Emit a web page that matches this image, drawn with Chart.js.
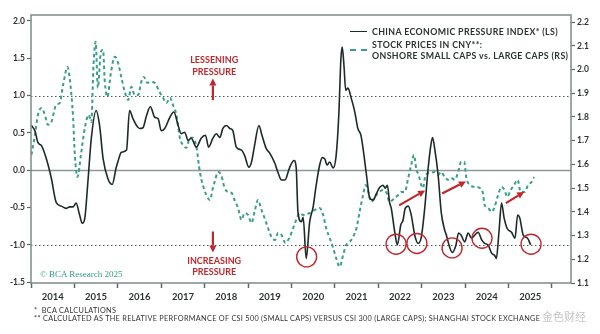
<!DOCTYPE html>
<html><head><meta charset="utf-8">
<script src="https://cdn.jsdelivr.net/npm/chart.js@4.4.1/dist/chart.umd.min.js"></script>
<style>
html,body{margin:0;padding:0;background:#fff;}
#wrap{position:relative;width:600px;height:334px;overflow:hidden;font-family:Lato,'DejaVu Sans',sans-serif;}
#c{position:absolute;left:0;top:0;}
.t{position:absolute;white-space:nowrap;color:#2b3331;font-weight:700;line-height:1;}
.lg{font-size:8.8px;letter-spacing:0.38px;}
.fn{font-size:7.3px;letter-spacing:0.3px;font-weight:400;color:#333;}
.sym{position:absolute;width:17px;height:0;}
</style></head><body>
<div id="wrap">
<canvas id="c" width="600" height="334"></canvas>
<div class="sym" style="left:350px;top:31px;border-top:1.6px solid #1d2b28"></div>
<div class="t lg" style="left:372px;top:28px;">CHINA ECONOMIC PRESSURE INDEX* (LS)</div>
<div class="sym" style="left:350px;top:49px;border-top:2px dashed #3a9f88"></div>
<div class="t lg" style="left:372px;top:41px;">STOCK PRICES IN CNY**:</div>
<div class="t lg" style="left:372px;top:52px;">ONSHORE SMALL CAPS vs. LARGE CAPS (RS)</div>
<div class="t" style="left:40px;top:270px;font-size:9px;color:#2f9e86;font-weight:400;font-family:'Liberation Serif','DejaVu Serif',serif">© BCA Research 2025</div>
<div class="t fn" style="left:34px;top:307px;">*&nbsp; BCA CALCULATIONS</div>
<div class="t fn" style="left:34px;top:315px;">** CALCULATED AS THE RELATIVE PERFORMANCE OF CSI 500 (SMALL CAPS) VERSUS CSI 300 (LARGE CAPS); SHANGHAI STOCK EXCHANGE</div>
<div class="t" style="left:542px;top:311px;font-size:11px;font-weight:400;color:#c4c4c4;font-family:'Noto Sans CJK SC',sans-serif">金色财经</div>
</div>
<script>
// ---- data ----
const econDates = [2014.01,2014.09,2014.16,2014.24,2014.35,2014.47,2014.58,2014.70,2014.81,2014.89,2014.97,2015.04,2015.12,2015.18,2015.24,2015.31,2015.39,2015.50,2015.58,2015.66,2015.77,2015.87,2015.96,2016.00,2016.08,2016.20,2016.27,2016.35,2016.43,2016.50,2016.58,2016.66,2016.75,2016.85,2016.93,2017.00,2017.08,2017.20,2017.29,2017.39,2017.46,2017.54,2017.62,2017.69,2017.81,2017.92,2018.02,2018.09,2018.19,2018.27,2018.35,2018.42,2018.50,2018.58,2018.65,2018.73,2018.85,2018.92,2019.02,2019.08,2019.15,2019.25,2019.32,2019.42,2019.50,2019.62,2019.69,2019.77,2019.85,2019.96,2020.06,2020.11,2020.15,2020.23,2020.27,2020.34,2020.42,2020.50,2020.57,2020.65,2020.71,2020.77,2020.82,2020.88,2020.96,2021.03,2021.09,2021.14,2021.17,2021.21,2021.25,2021.30,2021.38,2021.46,2021.53,2021.60,2021.65,2021.73,2021.80,2021.88,2021.96,2022.03,2022.11,2022.16,2022.21,2022.26,2022.30,2022.38,2022.44,2022.52,2022.57,2022.62,2022.69,2022.76,2022.84,2022.92,2022.99,2023.07,2023.15,2023.21,2023.25,2023.30,2023.38,2023.45,2023.52,2023.57,2023.65,2023.71,2023.79,2023.85,2023.91,2023.99,2024.07,2024.15,2024.22,2024.30,2024.38,2024.45,2024.53,2024.61,2024.68,2024.72,2024.78,2024.84,2024.90,2024.97,2025.07,2025.15,2025.21,2025.26,2025.34,2025.44,2025.51];
const econValues = [0.60,0.53,0.37,0.33,0.16,-0.11,-0.43,-0.48,-0.51,-0.49,-0.49,-0.44,-0.60,-0.71,-0.64,-0.16,0.43,0.80,0.60,0.16,-0.11,-0.19,0.03,0.11,0.24,0.27,0.80,0.69,0.60,0.56,0.57,0.73,0.85,0.71,0.69,0.53,0.56,0.71,0.78,0.60,0.49,0.51,0.40,0.43,0.31,0.43,0.47,0.31,0.43,0.49,0.44,0.56,0.60,0.56,0.53,0.31,0.27,0.20,0.04,0.11,0.33,0.60,0.47,0.29,0.23,0.09,-0.03,-0.13,-0.13,0.04,0.13,0.03,-0.56,-0.69,-0.63,-1.18,-0.69,-0.49,-0.20,0.07,0.17,0.15,0.07,0.11,0.03,0.20,0.73,1.50,1.65,1.40,1.07,1.10,0.96,0.78,0.56,0.47,0.29,-0.07,-0.37,-0.40,-0.31,-0.23,-0.20,-0.24,-0.20,-0.43,-0.51,-0.83,-1.00,-0.73,-0.67,-0.51,-0.48,-0.60,-0.87,-0.98,-0.90,-0.51,0.03,0.33,0.44,0.29,-0.07,-0.56,-0.78,-0.87,-1.04,-1.10,-1.00,-0.84,-0.87,-0.96,-0.84,-0.91,-0.87,-0.83,-0.93,-0.98,-1.00,-1.11,-1.14,-1.18,-0.83,-0.44,-0.64,-0.78,-0.83,-0.91,-0.60,-0.64,-0.87,-0.91,-1.00];

const stockDates = [2014.01,2014.09,2014.16,2014.24,2014.32,2014.39,2014.47,2014.58,2014.66,2014.74,2014.84,2014.89,2014.97,2015.01,2015.07,2015.15,2015.24,2015.33,2015.39,2015.44,2015.49,2015.54,2015.61,2015.66,2015.70,2015.76,2015.84,2015.93,2016.00,2016.08,2016.16,2016.24,2016.31,2016.39,2016.47,2016.54,2016.60,2016.68,2016.76,2016.85,2016.97,2017.04,2017.12,2017.20,2017.27,2017.35,2017.43,2017.50,2017.58,2017.66,2017.73,2017.81,2017.89,2017.96,2018.04,2018.12,2018.19,2018.23,2018.31,2018.38,2018.46,2018.54,2018.62,2018.69,2018.77,2018.85,2018.92,2019.00,2019.08,2019.15,2019.23,2019.31,2019.38,2019.46,2019.54,2019.62,2019.69,2019.77,2019.86,2019.96,2020.04,2020.11,2020.19,2020.27,2020.42,2020.54,2020.65,2020.73,2020.80,2020.88,2020.96,2021.03,2021.11,2021.19,2021.26,2021.34,2021.42,2021.50,2021.57,2021.65,2021.71,2021.76,2021.84,2021.92,2022.00,2022.11,2022.19,2022.26,2022.33,2022.38,2022.46,2022.53,2022.61,2022.69,2022.76,2022.82,2022.88,2022.93,2022.99,2023.03,2023.09,2023.19,2023.30,2023.38,2023.45,2023.53,2023.61,2023.68,2023.76,2023.84,2023.91,2023.98,2024.03,2024.11,2024.22,2024.34,2024.41,2024.45,2024.53,2024.61,2024.68,2024.76,2024.84,2024.91,2024.97,2025.05,2025.13,2025.21,2025.28,2025.38,2025.45,2025.53,2025.59];
const stockValues = [1.640,1.724,1.809,1.838,1.809,1.767,1.779,1.851,1.859,1.935,2.011,1.965,1.796,1.640,1.547,1.640,1.754,1.809,1.779,2.020,2.117,1.923,2.075,2.083,1.948,1.885,1.986,2.054,2.032,1.969,1.906,1.872,1.927,1.893,1.893,1.948,1.969,1.944,1.948,1.944,1.902,1.881,1.859,1.881,1.851,1.809,1.712,1.682,1.670,1.712,1.712,1.674,1.568,1.513,1.471,1.450,1.500,1.526,1.568,1.556,1.501,1.484,1.480,1.450,1.416,1.366,1.395,1.387,1.353,1.400,1.450,1.408,1.374,1.332,1.294,1.281,1.311,1.303,1.269,1.294,1.332,1.366,1.395,1.387,1.395,1.408,1.416,1.387,1.332,1.290,1.248,1.205,1.168,1.218,1.260,1.273,1.294,1.332,1.400,1.471,1.513,1.492,1.442,1.463,1.480,1.492,1.480,1.442,1.450,1.459,1.471,1.484,1.484,1.543,1.598,1.640,1.577,1.556,1.513,1.501,1.556,1.564,1.568,1.556,1.568,1.547,1.535,1.543,1.535,1.568,1.611,1.611,1.543,1.513,1.505,1.501,1.480,1.429,1.416,1.400,1.421,1.471,1.505,1.492,1.463,1.492,1.513,1.535,1.484,1.484,1.513,1.526,1.547];

const yearLabels = ['2014','2015','2016','2017','2018','2019','2020','2021','2022','2023','2024','2025'];
const leftTicks = [-1.5,-1.0,-0.5,0.0,0.5,1.0,1.5,2.0];
const rightTicks = [1.1,1.2,1.3,1.4,1.5,1.6,1.7,1.8,1.9,2.0,2.1,2.2];

// annotation layout (in data units: year, left-axis value)
const refLines = [{v:1.0,dash:[1.5,2.5],color:'#555d5b',w:1.2},{v:0,dash:[],color:'#8d9997',w:1.4},{v:-1.0,dash:[1.5,2.5],color:'#555d5b',w:1.2}];
const circleMarks = [[2020.35,-1.16],[2022.41,-0.99],[2022.89,-0.98],[2023.70,-1.04],[2024.39,-0.91],[2025.52,-0.99]];
const redArrows = [[2022.48,-0.47,2023.08,-0.27],[2023.47,-0.31,2024.02,-0.15],[2024.94,-0.44,2025.36,-0.29],[2018.19,0.94,2018.19,1.23],[2018.19,-0.82,2018.19,-1.10]];
const redTexts = [['LESSENING',2018.22,1.47],['PRESSURE',2018.22,1.32],['INCREASING',2018.22,-1.22],['PRESSURE',2018.22,-1.36]];

const RED = '#c0272d';
const overlay = {
  id:'overlay',
  beforeDatasetsDraw(chart){
    const {ctx, chartArea:a, scales} = chart;
    ctx.save();
    refLines.forEach(r=>{
      const y = Math.round(scales.yL.getPixelForValue(r.v))+0.5;
      ctx.beginPath(); ctx.setLineDash(r.dash); ctx.strokeStyle=r.color; ctx.lineWidth=r.w;
      ctx.moveTo(a.left,y); ctx.lineTo(a.right,y); ctx.stroke();
    });
    ctx.restore();
  },
  afterDatasetsDraw(chart){
    const {ctx, chartArea:a, scales} = chart;
    const X = v=>scales.x.getPixelForValue(v), Y = v=>scales.yL.getPixelForValue(v);
    ctx.save();
    ctx.strokeStyle=RED; ctx.fillStyle=RED; ctx.setLineDash([]);
    ctx.lineWidth=1.4;
    circleMarks.forEach(([cx,cy])=>{ctx.beginPath();ctx.arc(X(cx),Y(cy),10,0,Math.PI*2);ctx.stroke();});
    redArrows.forEach(([x0,y0,x1,y1])=>{
      const px0=X(x0),py0=Y(y0),px1=X(x1),py1=Y(y1);
      const ang=Math.atan2(py1-py0,px1-px0), hl=7, hw=3.5;
      const bx=px1-hl*Math.cos(ang), by=py1-hl*Math.sin(ang);
      ctx.lineWidth=2.2; ctx.beginPath(); ctx.moveTo(px0,py0); ctx.lineTo(bx,by); ctx.stroke();
      ctx.beginPath(); ctx.moveTo(px1,py1);
      ctx.lineTo(bx+hw*Math.sin(ang),by-hw*Math.cos(ang));
      ctx.lineTo(bx-hw*Math.sin(ang),by+hw*Math.cos(ang));
      ctx.closePath(); ctx.fill();
    });
    ctx.font='bold 9px Lato, "DejaVu Sans", sans-serif'; ctx.textAlign='center'; ctx.textBaseline='middle';
    redTexts.forEach(([s,x,y])=>ctx.fillText(s,X(x),Y(y)));
    ctx.strokeStyle='#7e8b89'; ctx.lineWidth=1.5;
    ctx.strokeRect(a.left,a.top,a.right-a.left,a.bottom-a.top);
    ctx.restore();
  }
};

const tickFont = {family:'Lato, "DejaVu Sans", sans-serif', size:8.5, weight:'bold'};
const yearFont = {family:'Lato, "DejaVu Sans", sans-serif', size:9.5, weight:'bold'};
const pts = (xs,ys)=>xs.map((x,i)=>({x, y:ys[i]}));

new Chart(document.getElementById('c'), {
  type:'line',
  data:{datasets:[
    {label:'CHINA ECONOMIC PRESSURE INDEX* (LS)', data:pts(econDates,econValues), yAxisID:'yL', borderColor:'#1d2b28', borderWidth:1.6, pointRadius:0, cubicInterpolationMode:'monotone', order:0},
    {label:'STOCK PRICES IN CNY', data:pts(stockDates,stockValues), yAxisID:'yR', borderColor:'#3a9f88', borderWidth:2, borderDash:[3.5,3], pointRadius:0, cubicInterpolationMode:'monotone', order:1}
  ]},
  options:{
    responsive:false, animation:false, events:[],
    layout:{padding:{top:15,left:0,right:0,bottom:0}},
    plugins:{legend:{display:false}, tooltip:{enabled:false}},
    scales:{
      x:{type:'linear', min:2014, max:2026.44,
        afterBuildTicks:s=>{const t=[];for(let i=0;i<=yearLabels.length;i++){t.push({value:2014+i});if(i<yearLabels.length)t.push({value:2014.5+i});}s.ticks=t;},
        afterFit:s=>{s.height=51;},
        ticks:{autoSkip:false,maxRotation:0,padding:3,color:'#2e3432',font:yearFont,
          callback:v=>Number.isInteger(v)?'':yearLabels[Math.floor(v)-2014]},
        grid:{drawOnChartArea:false,tickLength:5,tickWidth:1.5,tickColor:c=>(c.tick&&Number.isInteger(c.tick.value))?'#5d6866':'rgba(0,0,0,0)'},
        border:{display:false}},
      yL:{type:'linear',position:'left',min:-1.51,max:2.08,
        afterBuildTicks:s=>{s.ticks=leftTicks.map(v=>({value:v}));},
        afterFit:s=>{s.width=31;},
        ticks:{padding:2,color:'#2e3432',font:tickFont,callback:v=>v.toFixed(1)},
        grid:{drawOnChartArea:false,tickLength:4,tickWidth:1.2,tickColor:'#5d6866'},
        border:{display:false}},
      yR:{type:'linear',position:'right',min:1.1,max:2.23,
        afterBuildTicks:s=>{s.ticks=rightTicks.map(v=>({value:v}));},
        afterFit:s=>{s.width=29;},
        ticks:{padding:2,color:'#2e3432',font:tickFont,callback:v=>v.toFixed(1)},
        grid:{drawOnChartArea:false,tickLength:4,tickWidth:1.2,tickColor:'#5d6866'},
        border:{display:false}}
    }
  },
  plugins:[overlay]
});
</script>
</body></html>
